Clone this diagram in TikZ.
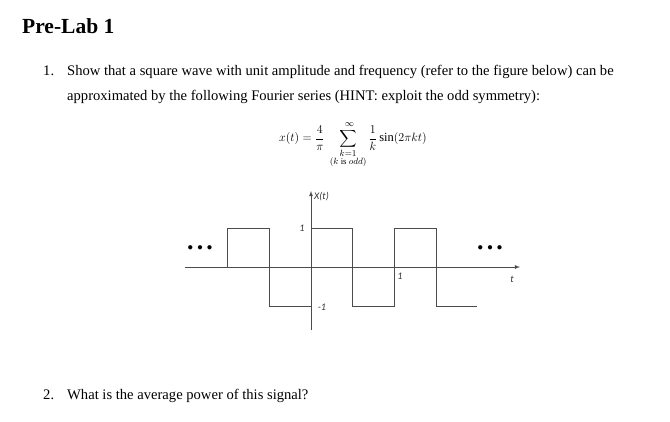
\documentclass[tikz,border=0pt]{standalone}
\usepackage{fontspec}
\usepackage{amsmath}
\setmainfont{Liberation Serif}
\newfontfamily\lblfont{Carlito}
\begin{document}
\begin{tikzpicture}[x=1pt,y=-1pt,
  txt/.style={anchor=base west,inner sep=0pt,font=\fontsize{14.6}{16}\selectfont},
  wave/.style={draw=black!70,line width=0.8pt},
  lbl/.style={inner sep=0pt,font=\fontsize{10}{11}\selectfont\itshape\lblfont,text=black!80},
  dots/.style={inner sep=0pt,font=\fontsize{11}{11}\selectfont}]
\useasboundingbox[fill=white] (0,0) rectangle (670,421);
\node[anchor=base west,inner sep=0pt,font=\fontsize{21.5}{23}\selectfont\bfseries] (title) at (22,33) {Pre-Lab 1};
\node[txt] (n1) at (43,75) {1.};
\node[txt] (l1) at (67,75) {Show that a square wave with unit amplitude and frequency (refer to the figure below) can be};
\node[txt] (l2) at (67,100) {approximated by the following Fourier series (HINT: exploit the odd symmetry):};
\node[inner sep=0pt] (eq) at (353,145) {\fontsize{12.5}{14}\selectfont$\displaystyle x(t)=\frac{4}{\pi}\;\sum_{\substack{k=1\\(k\text{ is }odd)}}^{\;\infty}\frac{1}{k}\sin(2\pi k t)$};
\node[txt] (n2) at (43,399) {2.};
\node[txt] (q2) at (67,399) {What is the average power of this signal?};
% axes
\coordinate (xs) at (185,267); \coordinate (xe) at (520,267);
\coordinate (ys) at (311,330); \coordinate (ye) at (311,191);
\draw[wave,-latex] (xs) -- (xe);
\draw[wave,-latex] (ys) -- (ye);
\draw[wave] (227,267) -- (227,228) -- (269,228) -- (269,306) -- (311,306) -- (311,228) -- (352,228) -- (352,306) -- (394,306) -- (394,228) -- (436,228) -- (436,306) -- (477,306);
\node[lbl,anchor=west] (xl) at (314,197) {X(t)};
\node[lbl] (one) at (302,228) {1};
\node[lbl] (mone) at (322,307) {-1};
\node[lbl] (tone) at (400,276) {1};
\node[lbl] (tl) at (512,279) {t};
\node[dots] (dl) at (200,248) {$\bullet\,\bullet\,\bullet$};
\node[dots] (dr) at (490,248) {$\bullet\,\bullet\,\bullet$};
\end{tikzpicture}
\end{document}
